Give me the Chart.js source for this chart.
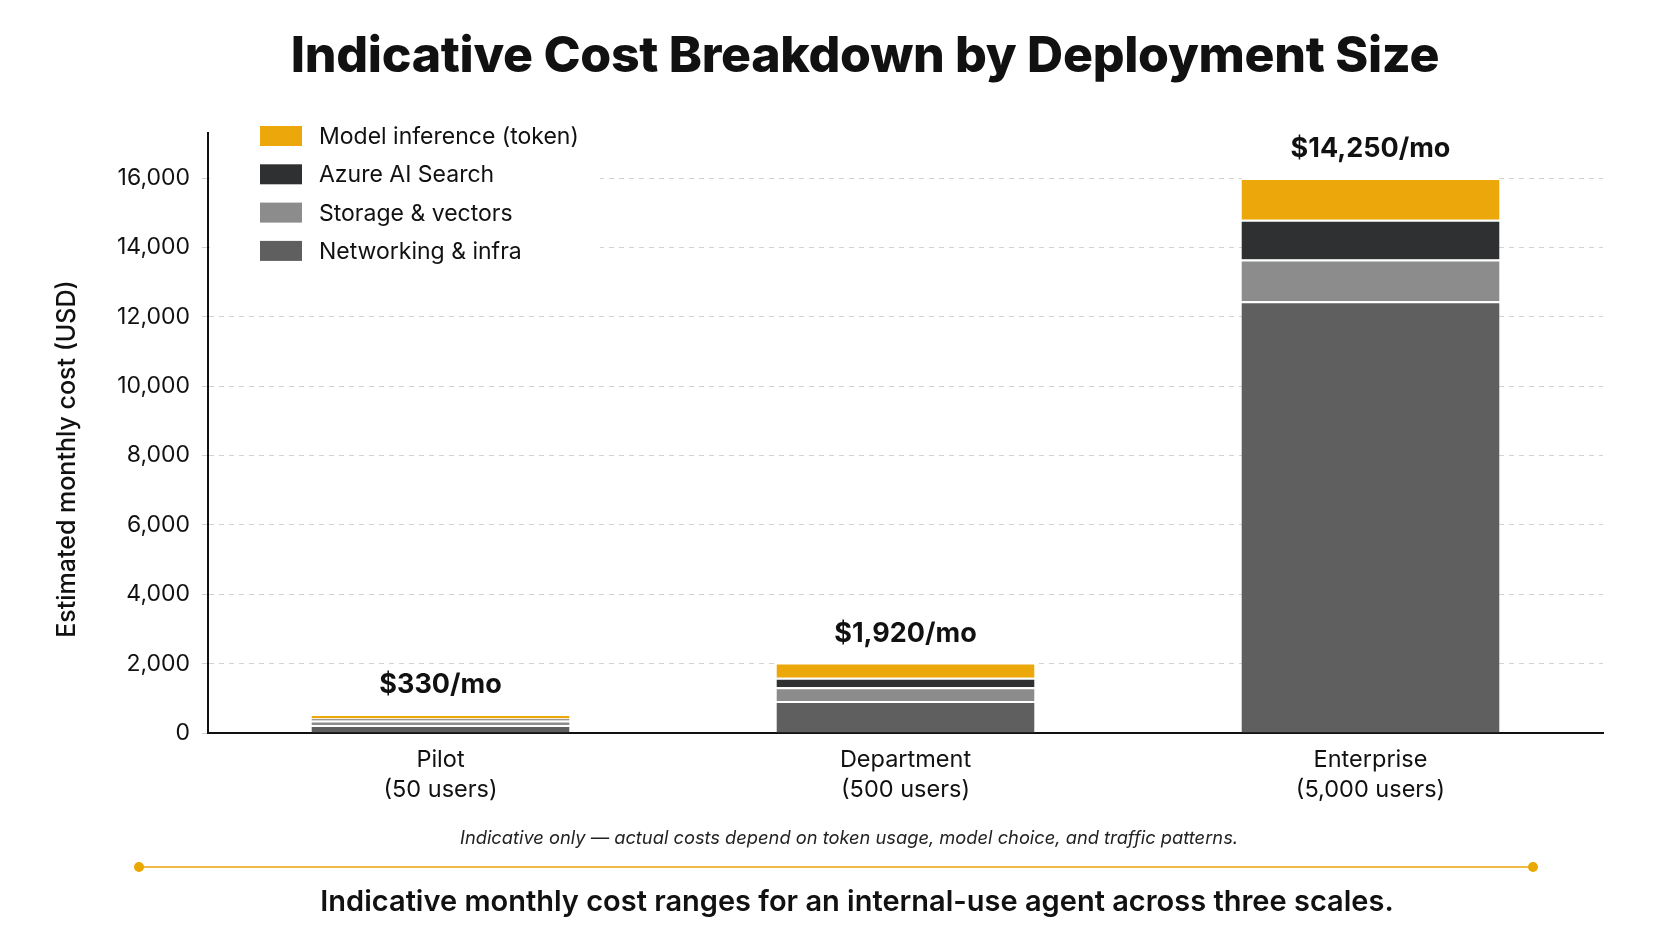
<!DOCTYPE html>
<html>
<head>
<meta charset="utf-8">
<script src="https://cdn.jsdelivr.net/npm/chart.js@4.4.1/dist/chart.umd.min.js"></script>
<style>
  html, body { margin: 0; padding: 0; background: #fff; }
  body { width: 1672px; height: 941px; position: relative; overflow: hidden; font-family: Inter, "Noto Sans", sans-serif; color: #111; }
  #chart { position: absolute; left: 0; top: 0; }
  .title { position: absolute; left: 0; width: 1730px; top: 24px; text-align: center; font-size: 50px; font-weight: 800; letter-spacing: -0.3px; }
  .note { position: absolute; left: 0; width: 1698px; top: 826px; text-align: center; font-size: 18.3px; font-style: italic; color: #222; }
  .rule { position: absolute; left: 139px; width: 1394px; top: 866px; height: 2px; background: #efbb45; }
  .dot { position: absolute; top: 862px; width: 10px; height: 10px; border-radius: 50%; background: #eaa800; }
  .caption { position: absolute; left: 0; width: 1714px; top: 883px; text-align: center; font-size: 29px; font-weight: 600; }
</style>
</head>
<body>
<canvas id="chart" width="1672" height="941"></canvas>
<div class="title">Indicative Cost Breakdown by Deployment Size</div>
<div class="note">Indicative only — actual costs depend on token usage, model choice, and traffic patterns.</div>
<div class="rule"></div>
<div class="dot" style="left:134px"></div>
<div class="dot" style="left:1528px"></div>
<div class="caption">Indicative monthly cost ranges for an internal-use agent across three scales.</div>
<script>
// categories and values (USD / month)
const categories = [['Pilot', '(50 users)'], ['Department', '(500 users)'], ['Enterprise', '(5,000 users)']];
const networking = [230, 920, 12450];
const storage = [130, 400, 1200];
const search = [60, 270, 1150];
const inference = [130, 440, 1200];
const totalLabels = ['$330/mo', '$1,920/mo', '$14,250/mo'];
const yTicks = [0, 2000, 4000, 6000, 8000, 10000, 12000, 14000, 16000];

const FONT = 'Inter, "Noto Sans", sans-serif';
const INK = '#111111';

// stacked from the bottom up
const datasets = [
  { label: 'Networking & infra', data: networking, backgroundColor: '#5f5f5f' },
  { label: 'Storage & vectors', data: storage, backgroundColor: '#8c8c8c' },
  { label: 'Azure AI Search', data: search, backgroundColor: '#2f3031' },
  { label: 'Model inference (token)', data: inference, backgroundColor: '#eca80a' }
].map(d => Object.assign(d, {
  borderColor: '#ffffff',
  borderWidth: { top: 2, left: 0, right: 0, bottom: 0 },
  borderSkipped: false,
  barPercentage: 0.555,
  categoryPercentage: 1
}));

// totals above each bar
const totalsPlugin = {
  id: 'totals',
  afterDatasetsDraw(chart) {
    const ctx = chart.ctx;
    const top = chart.getDatasetMeta(chart.data.datasets.length - 1);
    ctx.save();
    ctx.font = '700 27px ' + FONT;
    ctx.fillStyle = INK;
    ctx.textAlign = 'center';
    ctx.textBaseline = 'middle';
    top.data.forEach((bar, i) => {
      ctx.fillText(totalLabels[i], bar.x, bar.y - 29);
    });
    ctx.restore();
  }
};

// y axis title, centred a little below the plot middle like the original
const yTitlePlugin = {
  id: 'yTitle',
  afterDraw(chart) {
    const ctx = chart.ctx;
    ctx.save();
    ctx.translate(67, 459);
    ctx.rotate(-Math.PI / 2);
    ctx.font = '500 25px ' + FONT;
    ctx.fillStyle = INK;
    ctx.textAlign = 'center';
    ctx.textBaseline = 'middle';
    ctx.fillText('Estimated monthly cost (USD)', 0, 0);
    ctx.restore();
  }
};

// legend inside the plot, top-left, on a white card over the grid
const legendPlugin = {
  id: 'innerLegend',
  afterDraw(chart) {
    const ctx = chart.ctx;
    const items = chart.data.datasets.slice().reverse();
    ctx.save();
    ctx.fillStyle = '#ffffff';
    ctx.fillRect(chart.chartArea.left + 2, 112, 390, 156);
    ctx.font = '400 23px ' + FONT;
    ctx.textBaseline = 'middle';
    items.forEach((ds, i) => {
      const y = 136 + i * 38.3;
      ctx.fillStyle = ds.backgroundColor;
      ctx.fillRect(260, y - 10, 42, 20);
      ctx.fillStyle = INK;
      ctx.fillText(ds.label, 319, y + 1);
    });
    ctx.restore();
  }
};

new Chart(document.getElementById('chart'), {
  type: 'bar',
  data: { labels: categories, datasets: datasets },
  options: {
    responsive: false,
    animation: false,
    devicePixelRatio: 1,
    layout: { padding: { top: 133, left: 50, right: 69, bottom: 0 } },
    plugins: { legend: { display: false }, tooltip: { enabled: false } },
    scales: {
      x: {
        stacked: true,
        grid: { display: false },
        border: { display: true, color: INK, width: 2 },
        ticks: { color: INK, font: { family: FONT, size: 23.5, lineHeight: 1.27 }, padding: 4 },
        afterFit(scale) { scale.height = 208; }
      },
      y: {
        stacked: true,
        min: 0,
        max: 17300,
        grid: { color: '#d2d2d2', lineWidth: 1, tickLength: 6 },
        border: { display: true, color: INK, width: 2, dash: [5, 5] },
        ticks: {
          color: INK,
          padding: 12,
          font: { family: FONT, size: 23 },
          callback: v => v.toLocaleString('en-US')
        },
        afterBuildTicks(scale) { scale.ticks = yTicks.map(v => ({ value: v })); },
        afterFit(scale) { scale.width = 158; }
      }
    }
  },
  plugins: [totalsPlugin, legendPlugin, yTitlePlugin]
});
</script>
</body>
</html>
